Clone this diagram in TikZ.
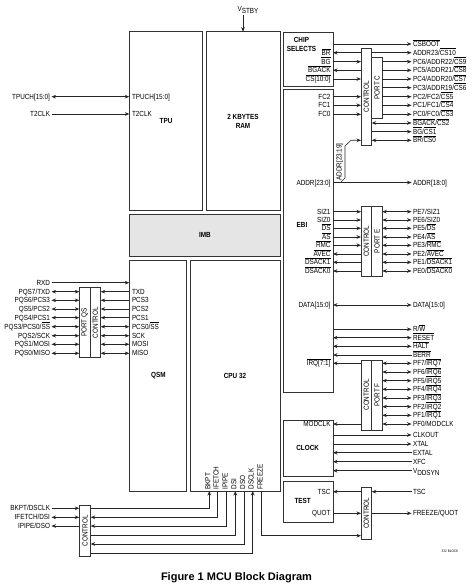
\documentclass[tikz,border=0pt]{standalone}
\usepackage{fontspec}
\setmainfont{Liberation Sans}[FakeStretch=0.86]
\newfontfamily\capfont{Liberation Sans}
\usetikzlibrary{arrows.meta}
\newcommand\ovl[1]{$\overline{\hbox{#1}}$}
\newcommand\lfont{\fontsize{7.4}{9}\selectfont}
\tikzset{
  lbl/.style={inner sep=1.5pt, outer sep=0pt, text height=5.4pt, text depth=0.4pt, font=\lfont},
  rlab/.style={lbl, anchor=west},
  llab/.style={lbl, anchor=east},
  ttl/.style={inner sep=0pt, font=\lfont\bfseries, align=center},
  rotl/.style={inner sep=0pt, font=\lfont, rotate=90},
  blk/.style={draw=black!80, line width=0.7pt, inner sep=0pt, outer sep=0pt},
  sig/.style={line width=0.6pt, draw=black!85},
  >={Stealth[length=4.5pt,width=3.6pt]}
}
\newcommand\BX[6][]{\node[blk,#1,minimum width={#5pt-#3pt},minimum height={#6pt-#4pt}] (#2) at ({(#3+#5)/2},{(#4+#6)/2}) {};}
\newcommand\RL[3]{\node[rlab] (#1) at (411.5,#2) {#3};}
\newcommand\IL[3]{\node[llab] (#1) at (332,#2) {#3};}
\newcommand\OL[3]{\node[llab] (#1) at (51.5,#2) {#3};}
\newcommand\QL[3]{\node[rlab] (#1) at (130.5,#2) {#3};}
\begin{document}
\begin{tikzpicture}[x=1pt,y=-1pt]
\useasboundingbox (0,0) rectangle (474,588);
\fill[white] (0,0) rectangle (474,588);
% ---------- blocks
\BX{tpu}{129.3}{31.7}{202}{210}
\BX{ram}{206.7}{31.7}{280}{210}
\BX[fill=black!10]{imb}{129.3}{214.3}{280}{256.7}
\BX{qsm}{129.3}{260.7}{186}{491}
\BX{cpu}{190.7}{260.7}{280}{491}
\BX{chip}{283}{32}{333}{86}
\BX{ebi}{283}{89}{333}{392}
\BX{clk}{283}{420.5}{333}{476.7}
\BX{tst}{283}{481}{333}{522.7}
\BX{ctlC}{361}{48}{371.7}{145}
\BX{portC}{371.7}{57}{382.3}{118}
\BX{ctlE}{361}{206}{371.7}{276.7}
\BX{portE}{371.7}{206}{382.3}{276.7}
\BX{ctlF}{361}{360}{371.7}{430}
\BX{portF}{371.7}{360}{382.3}{430}
\BX{ctlT}{361}{487.7}{371.7}{539}
\BX{portQS}{79.3}{287.7}{90}{357.3}
\BX{ctlQS}{90}{287.7}{100.7}{357.3}
\BX{ctlB}{79.3}{505}{90.7}{556.7}
% ---------- block titles
\node[ttl] (tTPU) at (166,121) {TPU};
\node[ttl] (tRAM) at (243,121.2) {2 KBYTES\\RAM};
\node[ttl] (tIMB) at (205,235) {IMB};
\node[ttl] (tQSM) at (158.3,376) {QSM};
\node[ttl] (tCPU) at (235,376) {CPU 32};
\node[ttl] (tCS) at (301.5,44.5) {CHIP\\SELECTS};
\node[ttl] (tEBI) at (302,225) {EBI};
\node[ttl] (tCLK) at (307.7,448.3) {CLOCK};
\node[ttl] (tTST) at (302.7,500.7) {TEST};
\node[rotl] at (ctlC) {CONTROL};
\node[rotl] at (portC) {PORT C};
\node[rotl] at (ctlE) {CONTROL};
\node[rotl] at (portE) {PORT E};
\node[rotl] at (ctlF) {CONTROL};
\node[rotl] at (portF) {PORT F};
\node[rotl] at (ctlT) {CONTROL};
\node[rotl] at (portQS) {PORT QS};
\node[rotl] at (ctlQS) {CONTROL};
\node[rotl] at (ctlB) {CONTROL};
% ---------- VSTBY
\node[lbl] (vstby) at (248,9) {V\raisebox{-1.8pt}{STBY}};
\coordinate (vs) at (243,15);
\draw[sig,->] (vs) -- (vs |- ram.north);
% ---------- right-hand labels
\RL{rCSBOOT}{44}{\ovl{CSBOOT}}
\RL{rA23}{52.7}{ADDR23/\ovl{CS10}}
\RL{rPC6}{61.7}{PC6/ADDR22/\ovl{CS9}}
\RL{rPC5}{70.3}{PC5/ADDR21/\ovl{CS8}}
\RL{rPC4}{79}{PC4/ADDR20/\ovl{CS7}}
\RL{rPC3}{87.7}{PC3/ADDR19/\ovl{CS6}}
\RL{rPC2}{96.7}{PC2/FC2/\ovl{CS5}}
\RL{rPC1}{105.3}{PC1/FC1/\ovl{CS4}}
\RL{rPC0}{114.3}{PC0/FC0/\ovl{CS3}}
\RL{rBGACK}{123}{\ovl{BGACK}/\ovl{CS2}}
\RL{rBG}{131.7}{\ovl{BG}/\ovl{CS1}}
\RL{rBR}{140.3}{\ovl{BR}/\ovl{CS0}}
\RL{rADDR}{182.5}{ADDR[18:0]}
\RL{rPE7}{211.7}{PE7/SIZ1}
\RL{rPE6}{220}{PE6/SIZ0}
\RL{rPE5}{228.3}{PE5/\ovl{DS}}
\RL{rPE4}{237}{PE4/\ovl{AS}}
\RL{rPE3}{245.3}{PE3/\ovl{RMC}}
\RL{rPE2}{254}{PE2/\ovl{AVEC}}
\RL{rPE1}{262.3}{PE1/\ovl{DSACK1}}
\RL{rPE0}{271}{PE0/\ovl{DSACK0}}
\RL{rDATA}{305}{DATA[15:0]}
\RL{rRW}{329.3}{R/\ovl{W}}
\RL{rRESET}{337.7}{\ovl{RESET}}
\RL{rHALT}{346.3}{\ovl{HALT}}
\RL{rBERR}{355}{\ovl{BERR}}
\RL{rPF7}{363.3}{PF7/\ovl{IRQ7}}
\RL{rPF6}{372}{PF6/\ovl{IRQ6}}
\RL{rPF5}{380.7}{PF5/\ovl{IRQ5}}
\RL{rPF4}{389.3}{PF4/\ovl{IRQ4}}
\RL{rPF3}{398}{PF3/\ovl{IRQ3}}
\RL{rPF2}{406.7}{PF2/\ovl{IRQ2}}
\RL{rPF1}{415.3}{PF1/\ovl{IRQ1}}
\RL{rPF0}{424}{PF0/MODCLK}
\RL{rCLKOUT}{435}{CLKOUT}
\RL{rXTAL}{444}{XTAL}
\RL{rEXTAL}{452.7}{EXTAL}
\RL{rXFC}{461.7}{XFC}
\RL{rVDD}{470.7}{V\raisebox{-1.8pt}{DDSYN}}
\RL{rTSC}{491.7}{TSC}
\RL{rFQ}{513.3}{FREEZE/QUOT}
% ---------- labels inside chip selects / EBI / clock / test
\IL{iBR}{52.7}{\ovl{BR}}
\IL{iBG}{61.7}{\ovl{BG}}
\IL{iBGACK}{70.3}{\ovl{BGACK}}
\IL{iCS}{79}{\ovl{CS[10:0]}}
\IL{iFC2}{96.7}{FC2}
\IL{iFC1}{105.3}{FC1}
\IL{iFC0}{114.3}{FC0}
\IL{iADDR}{182.5}{ADDR[23:0]}
\IL{iSIZ1}{211.7}{SIZ1}
\IL{iSIZ0}{220}{SIZ0}
\IL{iDS}{228.3}{\ovl{DS}}
\IL{iAS}{237}{\ovl{AS}}
\IL{iRMC}{245.3}{\ovl{RMC}}
\IL{iAVEC}{254}{\ovl{AVEC}}
\IL{iDSACK1}{262.3}{\ovl{DSACK1}}
\IL{iDSACK0}{271}{\ovl{DSACK0}}
\IL{iDATA}{305}{DATA[15:0]}
\IL{iIRQ}{363.3}{\ovl{IRQ[7:1]}}
\IL{iMOD}{424}{MODCLK}
\IL{iTSC}{491.7}{TSC}
\IL{iQUOT}{513.3}{QUOT}
% ---------- port C connections
\draw[sig,->] (chip.east |- rCSBOOT) -- (rCSBOOT.west);
\draw[sig,<-] (chip.east |- iBR) -- (ctlC.west |- iBR);
\draw[sig,->] (ctlC.east |- rA23) -- (rA23.west);
\draw[sig,->] (chip.east |- iBG) -- (ctlC.west |- iBG);
\draw[sig,<-] (chip.east |- iBGACK) -- (ctlC.west |- iBGACK);
\draw[sig,->] (chip.east |- iCS) -- (ctlC.west |- iCS);
\foreach \a in {FC2,FC1,FC0}{\draw[sig,->] (ebi.east |- i\a) -- (ctlC.west |- i\a);}
\foreach \a in {PC6,PC5,PC4,PC3,PC2,PC1,PC0}{\draw[sig,->] (portC.east |- r\a) -- (r\a.west);}
\draw[sig,<->] (ctlC.east |- rBGACK) -- (rBGACK.west);
\draw[sig,->] (ctlC.east |- rBG) -- (rBG.west);
\draw[sig,<->] (ctlC.east |- rBR) -- (rBR.west);
\coordinate (abr) at (340.5,182.5);
\draw[sig,->] (abr) -- (345,178) -- (345,146) -- (351,140.3) -- (ctlC.west |- rBR);
\node[rotl] (tA2319) at (339.6,162) {ADDR[23:19]};
% ---------- EBI / port E
\draw[sig,->] (ebi.east |- iADDR) -- (rADDR.west);
\foreach \a in {SIZ1,SIZ0,DS,AS,RMC}{\draw[sig,->] (ebi.east |- i\a) -- (ctlE.west |- i\a);}
\foreach \a in {AVEC,DSACK1,DSACK0}{\draw[sig,<-] (ebi.east |- i\a) -- (ctlE.west |- i\a);}
\foreach \a in {PE7,PE6,PE5,PE4,PE3,PE2,PE1,PE0}{\draw[sig,<->] (portE.east |- r\a) -- (r\a.west);}
\draw[sig,<->] (ebi.east |- iDATA) -- (rDATA.west);
\draw[sig,->] (ebi.east |- rRW) -- (rRW.west);
\draw[sig,<->] (ebi.east |- rRESET) -- (rRESET.west);
\draw[sig,<->] (ebi.east |- rHALT) -- (rHALT.west);
\draw[sig,<-] (ebi.east |- rBERR) -- (rBERR.west);
% ---------- port F
\draw[sig,<-] (ebi.east |- iIRQ) -- (ctlF.west |- iIRQ);
\foreach \a in {PF7,PF6,PF5,PF4,PF3,PF2,PF1,PF0}{\draw[sig,<->] (portF.east |- r\a) -- (r\a.west);}
\draw[sig,<-] (clk.east |- iMOD) -- (ctlF.west |- iMOD);
% ---------- clock
\draw[sig,->] (clk.east |- rCLKOUT) -- (rCLKOUT.west);
\draw[sig,->] (clk.east |- rXTAL) -- (rXTAL.west);
\foreach \a in {EXTAL,XFC,VDD}{\draw[sig,<-] (clk.east |- r\a) -- (r\a.west);}
% ---------- test
\draw[sig,<-] (ctlT.east |- rTSC) -- (rTSC.west);
\draw[sig,<-] (tst.east |- iTSC) -- (ctlT.west |- iTSC);
\draw[sig,->] (tst.east |- iQUOT) -- (ctlT.west |- iQUOT);
\draw[sig,->] (ctlT.east |- rFQ) -- (rFQ.west);
% ---------- TPU
\OL{oTPUCH}{96.7}{TPUCH[15:0]}
\OL{oT2CLK}{114}{T2CLK}
\QL{qTPUCH}{96.7}{TPUCH[15:0]}
\QL{qT2CLK}{114}{T2CLK}
\draw[sig,<->] (oTPUCH.east) -- (tpu.west |- oTPUCH);
\draw[sig,->] (oT2CLK.east) -- (tpu.west |- oT2CLK);
% ---------- QSM
\OL{oRXD}{282.7}{RXD}
\OL{oTXD}{291.7}{PQS7/TXD}
\OL{oPCS3}{300.3}{PQS6/PCS3}
\OL{oPCS2}{309}{QS5/PCS2}
\OL{oPCS1}{317.7}{PQS4/PCS1}
\OL{oPCS0}{326.7}{PQS3/PCS0/\ovl{SS}}
\OL{oSCK}{335.7}{PQS2/SCK}
\OL{oMOSI}{344.3}{PQS1/MOSI}
\OL{oMISO}{353.3}{PQS0/MISO}
\QL{qTXD}{291.7}{TXD}
\QL{qPCS3}{300.3}{PCS3}
\QL{qPCS2}{309}{PCS2}
\QL{qPCS1}{317.7}{PCS1}
\QL{qPCS0}{326.7}{PCS0/\ovl{SS}}
\QL{qSCK}{335.7}{SCK}
\QL{qMOSI}{344.3}{MOSI}
\QL{qMISO}{353.3}{MISO}
\draw[sig,->] (oRXD.east) -- (qsm.west |- oRXD);
\foreach \a in {TXD,PCS3,PCS2,PCS1,PCS0,SCK,MOSI,MISO}{\draw[sig,<->] (o\a.east) -- (portQS.west |- o\a);}
\foreach \a in {TXD,PCS3,PCS2,PCS1}{\draw[sig,->] (qsm.west |- q\a) -- (ctlQS.east |- q\a);}
\foreach \a in {PCS0,SCK,MOSI,MISO}{\draw[sig,<->] (qsm.west |- q\a) -- (ctlQS.east |- q\a);}
% ---------- background debug mode
\OL{oBKPT}{508.3}{BKPT/DSCLK}
\OL{oIFETCH}{517.3}{IFETCH/DSI}
\OL{oIPIPE}{526}{IPIPE/DSO}
\draw[sig,->] (oBKPT.east) -- (ctlB.west |- oBKPT);
\draw[sig,<->] (oIFETCH.east) -- (ctlB.west |- oIFETCH);
\draw[sig,<-] (oIPIPE.east) -- (ctlB.west |- oIPIPE);
\coordinate (cBKPT) at (209.3,508.3);
\coordinate (cIFETCH) at (217.7,517.3);
\coordinate (cIPIPE) at (226.5,526);
\coordinate (cDSI) at (235.3,535);
\coordinate (cDSO) at (244,544);
\coordinate (cDSCLK) at (252.7,553);
\coordinate (cFREEZE) at (261.7,535.7);
\foreach \a in {BKPT,IFETCH,IPIPE,DSI,DSO,DSCLK,FREEZE}{\node[lbl,rotate=90,anchor=west] (t\a) at (cpu.south -| c\a) [yshift=1.5pt] {\a};}
\draw[sig,->] (ctlB.east |- cBKPT) -- (cBKPT) -- (cBKPT |- cpu.south);
\draw[sig,->] (cIFETCH |- cpu.south) -- (cIFETCH) -- (ctlB.east |- cIFETCH);
\draw[sig,->] (cIPIPE |- cpu.south) -- (cIPIPE) -- (ctlB.east |- cIPIPE);
\draw[sig,->] (ctlB.east |- cDSI) -- (cDSI) -- (cDSI |- cpu.south);
\draw[sig,->] (cDSO |- cpu.south) -- (cDSO) -- (ctlB.east |- cDSO);
\draw[sig,->] (ctlB.east |- cDSCLK) -- (cDSCLK) -- (cDSCLK |- cpu.south);
\draw[sig,->] (cFREEZE |- cpu.south) -- (cFREEZE) -- (ctlT.west |- cFREEZE);
% ---------- captions
\node[inner sep=0pt, font=\fontsize{3.6}{4}\selectfont] (blk332) at (450,551.7) {332 BLOCK};
\node[inner sep=0pt, font={\capfont\bfseries\fontsize{11}{12}\selectfont}] (cap) at (236.5,578) {Figure 1 MCU Block Diagram};
\end{tikzpicture}
\end{document}
